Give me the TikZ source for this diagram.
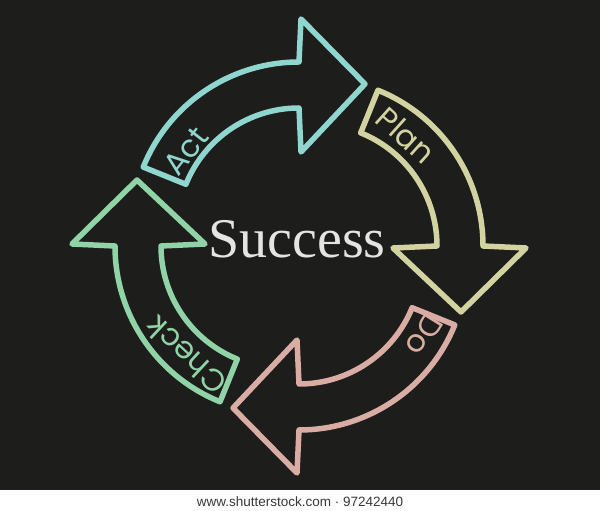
\documentclass[tikz,border=0pt]{standalone}
\usepackage{fontspec}
\setmainfont{Liberation Serif}
\newfontfamily\lblfont{Poppins}
\newfontfamily\stockfont{Liberation Sans}
\definecolor{board}{HTML}{1D1D1B}
\definecolor{actc}{HTML}{8FD6CE}
\definecolor{planc}{HTML}{D3D3A2}
\definecolor{doc}{HTML}{D9ADA3}
\definecolor{checkc}{HTML}{8FD3A6}
\definecolor{chalk}{HTML}{E4E4E4}
\newcommand\cyclearrow[2]{%
  \begin{scope}[shift={(299,265)}, rotate=#1]
    \draw[band, draw=#2]
      ([shift={(0,16)}]158:168) arc[start angle=158, end angle=90, radius=168]
      -- (2,227) -- (66,162) -- (2,94) -- (0,138)
      arc[start angle=90, end angle=158, radius=122] -- cycle;
  \end{scope}}
\begin{document}
\begin{tikzpicture}[x=1pt, y=1pt,
  band/.style={line width=5.5pt, line join=round},
  lbl/.style={font=\lblfont\fontsize{31}{31}\selectfont, inner sep=0pt}]
  \useasboundingbox (0,0) rectangle (600,511);
  \fill[white] (0,0) rectangle (600,21);
  \fill[board] (0,21) rectangle (600,511);
  \cyclearrow{0}{actc}
  \cyclearrow{-90}{planc}
  \cyclearrow{-180}{doc}
  \cyclearrow{90}{checkc}
  \node[lbl, text=actc, rotate=52] (act) at (186,360) {Act};
  \node[lbl, text=planc, rotate=-42] (plan) at (406,376) {Plan};
  \node[lbl, text=doc, rotate=-122] (do) at (424,176) {Do};
  \node[lbl, text=checkc, rotate=137] (check) at (186,156) {Check};
  \node[font=\fontsize{56}{56}\selectfont, text=chalk, anchor=base, inner sep=0pt] (success) at (297,253) {Success};
  \node[font=\stockfont\fontsize{13.5}{13.5}\selectfont, text=black!78, anchor=base, inner sep=0pt] (credit) at (300,4.3) {www.shutterstock.com · 97242440};
\end{tikzpicture}
\end{document}
